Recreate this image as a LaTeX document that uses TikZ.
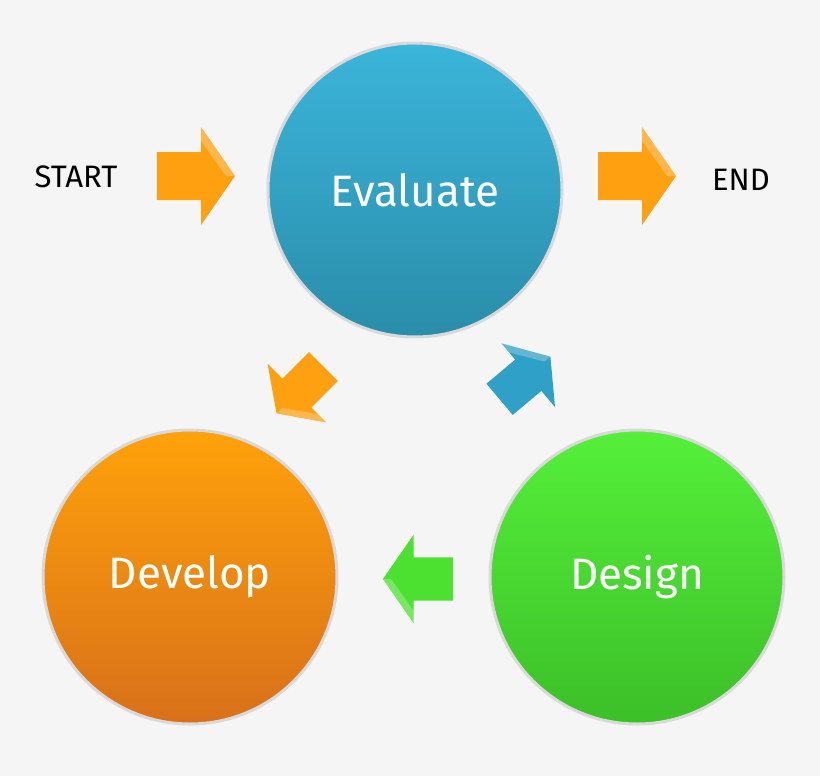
\documentclass[tikz,border=0pt]{standalone}
\usepackage{fontspec}
\setmainfont{Fira Sans}
\definecolor{evtop}{HTML}{3BB5DA}\definecolor{evbot}{HTML}{2A8DAA}
\definecolor{detop}{HTML}{55F03A}\definecolor{debot}{HTML}{3CBF28}
\definecolor{dvtop}{HTML}{FFA20A}\definecolor{dvbot}{HTML}{D8701A}
\definecolor{orar}{HTML}{FFA010}
\definecolor{blar}{HTML}{2FA0C8}
\definecolor{grar}{HTML}{4CE030}
\tikzset{x=1pt,y=-1pt,
 ball/.style={circle,minimum size=294pt,inner sep=0pt,text=white,font=\fontsize{44}{50}\selectfont,draw=white!85!black,line width=3pt},
 lbl/.style={font=\fontsize{31}{36}\selectfont,text=black},
 blockarrow/.pic={\fill[pic actions] (-39,-24) -- (5,-24) -- (5,-49) -- (39,0) -- (5,49) -- (5,24) -- (-39,24) -- cycle;
   \fill[white,opacity=0.25] (5,-49) -- (39,0) -- (30,0) -- (5,-35) -- cycle;}}
\begin{document}
\begin{tikzpicture}
\useasboundingbox[fill=white!96!black] (0,0) rectangle (820,776);
\node[ball,top color=evtop,bottom color=evbot] (ev) at (415,190) {Evaluate};
\node[ball,top color=detop,bottom color=debot] (de) at (637,577) {Design};
\node[ball,top color=dvtop,bottom color=dvbot] (dv) at (190,577) {Develop};
\node[lbl] (start) at (76,177) {START};
\node[lbl] (end) at (741,180) {END};
\pic[fill=orar] (a1) at (196,176) {blockarrow};
\pic[fill=orar] (a2) at (637,176) {blockarrow};
\pic[fill=blar,rotate=40,scale=0.85] (a3) at (525,378) {blockarrow};
\pic[fill=grar,rotate=180,scale=0.9] (a4) at (418,579) {blockarrow};
\pic[fill=orar,rotate=-135,scale=0.85] (a5) at (300,390) {blockarrow};
\end{tikzpicture}
\end{document}
